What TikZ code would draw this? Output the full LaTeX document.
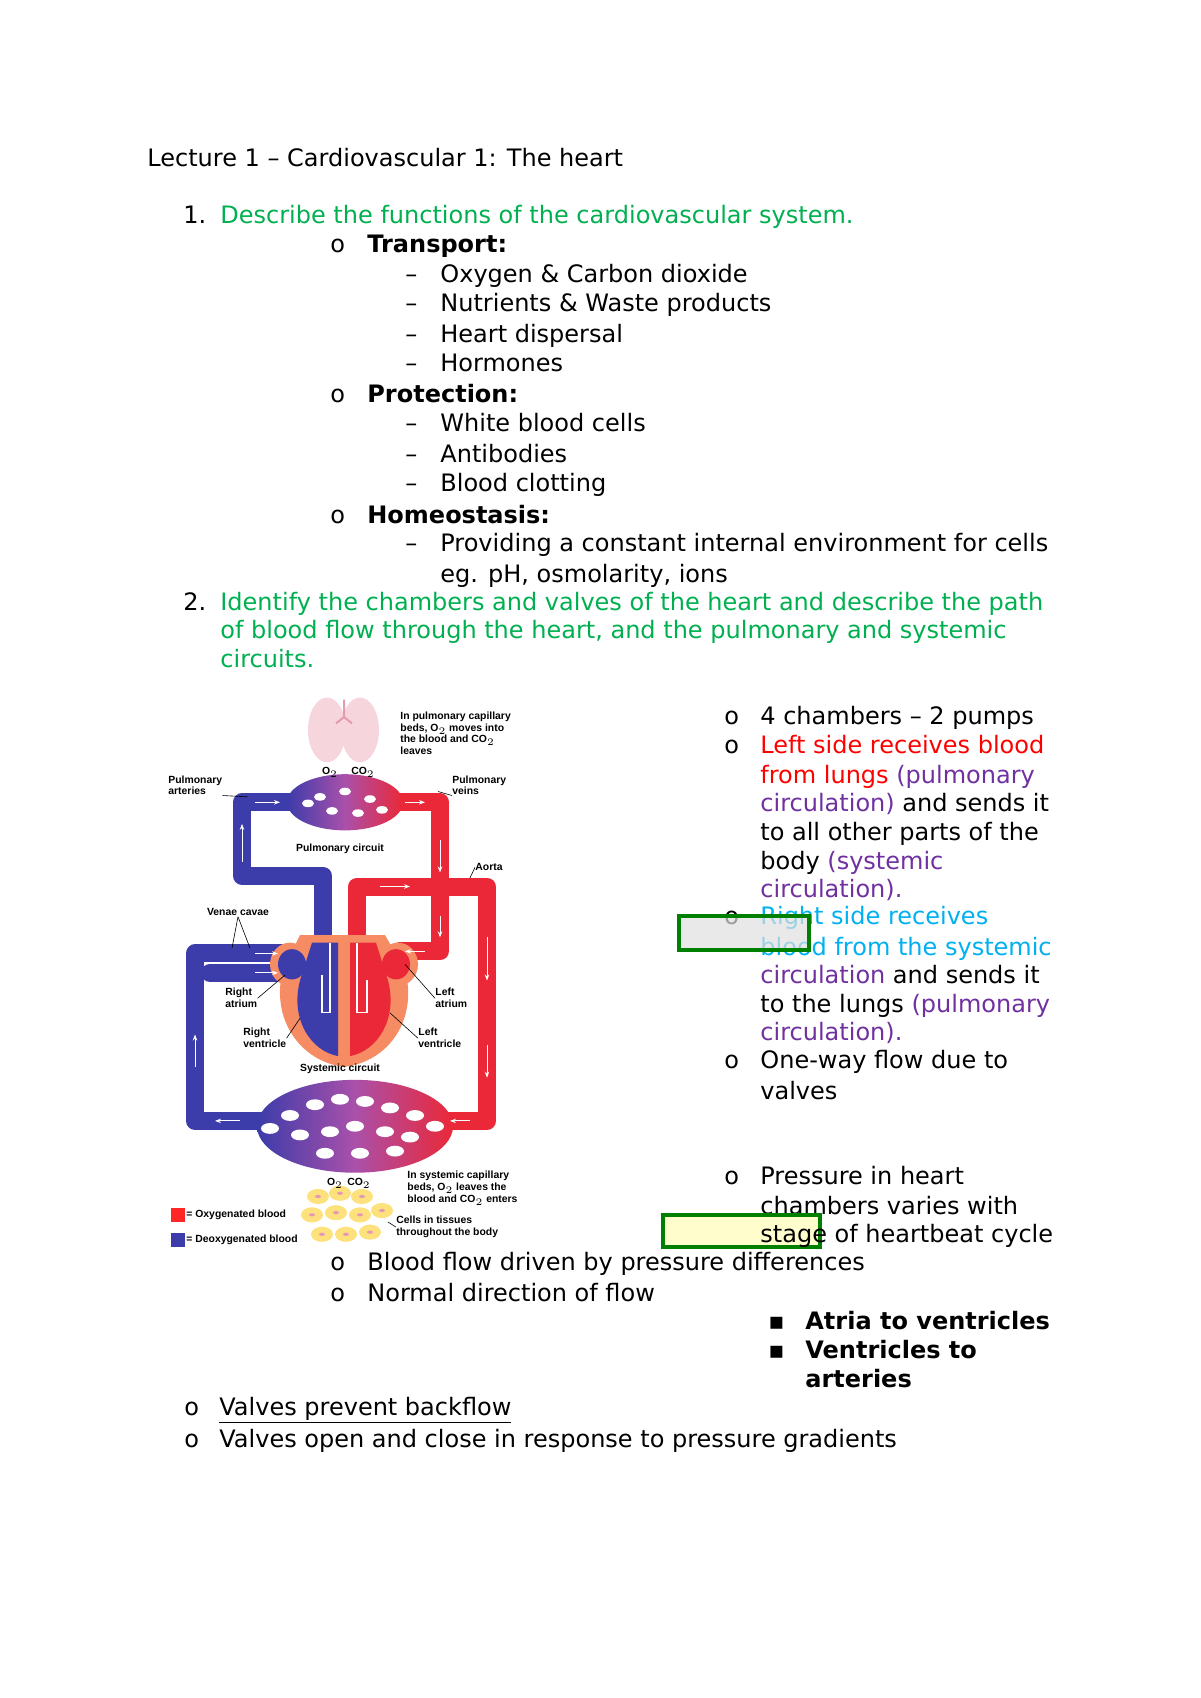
\documentclass[tikz,border=0pt]{standalone}
\usepackage{fontspec}
\setmainfont{DejaVu Sans}
\newfontfamily\lab{Liberation Sans}
\usetikzlibrary{arrows.meta}
\definecolor{qgreen}{RGB}{0,176,80}
\definecolor{qpurple}{RGB}{112,48,160}
\definecolor{qcyan}{RGB}{0,176,240}
\definecolor{tblue}{RGB}{60,60,170}
\definecolor{tred}{RGB}{235,40,55}
\definecolor{tpurp}{RGB}{170,80,170}
\definecolor{horange}{RGB}{245,140,100}
\definecolor{boxgreen}{RGB}{0,128,0}
\tikzset{
 txt/.style={anchor=base west,inner sep=0pt,yshift=-3.5pt,font=\fontsize{12}{14}\selectfont},
 sl/.style={inner sep=0pt,font=\lab\fontsize{5.2}{5.8}\selectfont\bfseries,align=left},
 tube/.style={line width=9pt,line join=round,line cap=round},
 flow/.style={white,line width=0.5pt,-{Stealth[length=3pt]}},
 hl/.style={draw=boxgreen,line width=2.2pt}
}
\begin{document}
\begin{tikzpicture}[x=0.5pt,y=-0.5pt]
\useasboundingbox (0,0) rectangle (1200,1698);
% text column
\node[txt] (title) at (147,159) {Lecture 1 – Cardiovascular 1: The heart};
\node[txt] (n1) at (183,216) {1.};
\node[txt,qgreen] (q1) at (220,216) {Describe the functions of the cardiovascular system.};
\node[txt] (b1) at (330,245) {o};
\node[txt] (t1) at (367,245) {\textbf{Transport:}};
\foreach \y/\t in {275/Oxygen \& Carbon dioxide,304/Nutrients \& Waste products,335/Heart dispersal,364/Hormones,424/White blood cells,455/Antibodies,484/Blood clotting,544/Providing a constant internal environment for cells}
 {\node[txt] at (405,\y) {–}; \node[txt] at (440,\y) {\t};}
\node[txt] (e1) at (440,575) {eg. pH, osmolarity, ions};
\node[txt] (b2) at (330,395) {o};
\node[txt] (t2) at (367,395) {\textbf{Protection:}};
\node[txt] (b3) at (330,516) {o};
\node[txt] (t3) at (367,516) {\textbf{Homeostasis:}};
\node[txt] (n2) at (183,603) {2.};
\node[txt,qgreen] (q2a) at (220,603) {Identify the chambers and valves of the heart and describe the path};
\node[txt,qgreen] (q2b) at (220,631) {of blood flow through the heart, and the pulmonary and systemic};
\node[txt,qgreen] (q2c) at (220,660) {circuits.};
% right column
\foreach \y in {717,746,917,1061,1177} {\node[txt] at (724,\y) {o};}
\node[txt] at (760,717) {4 chambers – 2 pumps};
\node[txt,red] at (760,746) {Left side receives blood};
\node[txt] at (760,776) {\textcolor{red}{from lungs} \textcolor{qpurple}{(pulmonary}};
\node[txt] at (760,804) {\textcolor{qpurple}{circulation)} and sends it};
\node[txt] at (760,833) {to all other parts of the};
\node[txt] at (760,862) {body \textcolor{qpurple}{(systemic}};
\node[txt,qpurple] at (760,890) {circulation).};
\node[txt,qcyan] at (760,917) {Right side receives};
\node[txt,qcyan] at (760,948) {blood from the systemic};
\node[txt] at (760,976) {\textcolor{qpurple}{circulation} and sends it};
\node[txt] at (760,1005) {to the lungs \textcolor{qpurple}{(pulmonary}};
\node[txt,qpurple] at (760,1033) {circulation).};
\node[txt] at (760,1061) {One-way flow due to};
\node[txt] at (760,1092) {valves};
\node[txt] at (760,1177) {Pressure in heart};
\node[txt] at (760,1207) {chambers varies with};
\draw[hl,fill=gray!25,fill opacity=0.7] (679,916) rectangle (809,950);
\draw[hl,fill=yellow!25,fill opacity=0.8] (663,1215) rectangle (820,1247);
\node[txt] at (760,1235) {stage of heartbeat cycle};
\node[txt] at (330,1263) {o};
\node[txt] at (367,1263) {Blood flow driven by pressure differences};
\node[txt] at (330,1294) {o};
\node[txt] at (367,1294) {Normal direction of flow};
\node[txt] at (768,1322) {▪};
\node[txt] at (805,1322) {\textbf{Atria to ventricles}};
\node[txt] at (768,1351) {▪};
\node[txt] at (805,1351) {\textbf{Ventricles to}};
\node[txt] at (805,1380) {\textbf{arteries}};
\node[txt] at (184,1408) {o};
\node[txt] at (219,1408) {\underline{Valves prevent backflow}};
\node[txt] at (184,1440) {o};
\node[txt] at (219,1440) {Valves open and close in response to pressure gradients};
% ---------- diagram ----------
\begin{scope}[shift={(0,704)},yscale=1.08,shift={(0,-704)}]
% lungs
\fill[pink!60!purple!30] (327,728) ellipse (19 and 30);
\fill[pink!60!purple!30] (360,728) ellipse (19 and 30);
\draw[purple!40,line width=1pt] (344,700) -- (344,716) (336,722) -- (344,716) -- (352,722);
% tubes
\draw[tube,tblue] (300,795) -- (242,795) -- (242,863) -- (323,863) -- (323,925);
\draw[tube,tred] (390,795) -- (440,795) -- (440,933) -- (400,933);
\draw[tube,tred] (357,925) -- (357,873) -- (487,873) -- (487,1090) -- (440,1090);
\draw[tube,tblue] (265,1090) -- (195,1090) -- (195,935) -- (285,935);
\draw[tube,tblue] (210,953) -- (285,953);
% capillary beds
\shade[left color=tblue,right color=tred,middle color=tpurp] (345,795) ellipse (58 and 26);
\shade[left color=tblue,right color=tred,middle color=tpurp] (355,1095) ellipse (98 and 43);
\foreach \x/\y in {320/790,345/785,370/792,332/803,358/805,382/802,308/796}
 \fill[white] (\x,\y) ellipse (6 and 3.5);
\foreach \x/\y in {290/1085,315/1075,340/1070,365/1072,390/1078,415/1085,300/1103,330/1100,355/1095,385/1100,410/1105,325/1120,360/1120,395/1118,270/1097,435/1095}
 \fill[white] (\x,\y) ellipse (9 and 5);
% heart
\fill[horange] (290,945) circle (20);
\fill[horange] (398,945) circle (20);
\fill[horange] (283,950) .. controls (270,995) and (300,1035) .. (344,1040) .. controls (390,1035) and (418,995) .. (405,950) -- (385,918) -- (300,918) -- cycle;
\fill[tblue] (292,945) circle (14);
\fill[tred] (396,945) circle (14);
\fill[tblue] (300,960) .. controls (290,995) and (310,1025) .. (338,1030) -- (338,925) -- (312,925) -- cycle;
\fill[tred] (388,960) .. controls (398,995) and (378,1025) .. (350,1030) -- (350,925) -- (376,925) -- cycle;
\draw[white,line width=0.6pt] (330,925) -- (330,990) -- (322,990) -- (322,955);
\draw[white,line width=0.6pt] (357,925) -- (357,990) -- (367,990) -- (367,960);
% flow arrows
\draw[flow] (255,795) -- (280,795);
\draw[flow] (242,850) -- (242,815);
\draw[flow] (405,795) -- (425,795);
\draw[flow] (440,830) -- (440,860);
\draw[flow] (440,900) -- (440,920);
\draw[flow] (380,873) -- (410,873);
\draw[flow] (487,920) -- (487,960);
\draw[flow] (487,1020) -- (487,1050);
\draw[flow] (470,1090) -- (450,1090);
\draw[flow] (240,1090) -- (215,1090);
\draw[flow] (195,1040) -- (195,1010);
\draw[flow] (255,935) -- (278,935);
\draw[flow] (255,953) -- (278,953);
\draw[flow] (425,933) -- (405,933);
% tissue cells
\foreach \x/\y in {318/1160,340/1157,362/1160,312/1177,336/1175,360/1177,382/1173,322/1195,346/1195,370/1193}
 {\fill[yellow!60!orange!50] (\x,\y) ellipse (11 and 7); \fill[purple!40] (\x,\y) ellipse (3 and 1.5);}
% labels
\node[sl,anchor=north west] (lp) at (400,711) {In pulmonary capillary\\beds, O$_2$ moves into\\the blood and CO$_2$\\leaves};
\node[sl,anchor=north west] (pa) at (168,770) {Pulmonary\\arteries};
\node[sl,anchor=north west] (pv) at (452,770) {Pulmonary\\veins};
\node[sl] (pc) at (340,838) {Pulmonary circuit};
\node[sl,anchor=west] (ao) at (475,855) {Aorta};
\node[sl] (vc) at (238,897) {Venae cavae};
\node[sl,anchor=north west] (ra) at (225,967) {Right\\atrium};
\node[sl,anchor=north west] (la) at (435,967) {Left\\atrium};
\node[sl,anchor=north west] (rv) at (243,1004) {Right\\ventricle};
\node[sl,anchor=north west] (lv) at (418,1004) {Left\\ventricle};
\node[sl] (sc) at (340,1042) {Systemic circuit};
\node[sl] (o2a) at (330,767) {O$_2$};
\node[sl] (co2a) at (363,767) {CO$_2$};
\node[sl] (o2b) at (335,1148) {O$_2$};
\node[sl] (co2b) at (359,1148) {CO$_2$};
\draw[line width=0.3pt] (pa.south east) -- (248,790);
\draw[line width=0.3pt] (pv.south west) -- (438,785);
\draw[line width=0.3pt] (ao.west) -- (470,865);
\draw[line width=0.3pt] (vc.south) -- (232,930) (vc.south) -- (250,930);
\draw[line width=0.3pt] (ra.east) -- (285,955);
\draw[line width=0.3pt] (la.west) -- (405,945);
\draw[line width=0.3pt] (rv.east) -- (300,995);
\draw[line width=0.3pt] (lv.west) -- (390,990);
\end{scope}
\node[sl,anchor=north west] (ls) at (407,1171) {In systemic capillary\\beds, O$_2$ leaves the\\blood and CO$_2$ enters};
\node[sl,anchor=north west] (ct) at (396,1216) {Cells in tissues\\throughout the body};
\draw[line width=0.3pt] (ct.west) -- (388,1222);
\fill[red!85] (171,1208) rectangle (185,1222);
\fill[tblue] (171,1233) rectangle (185,1247);
\node[sl,anchor=west] (leg1) at (186,1215) {= Oxygenated blood};
\node[sl,anchor=west] (leg2) at (186,1240) {= Deoxygenated blood};
\end{tikzpicture}
\end{document}
